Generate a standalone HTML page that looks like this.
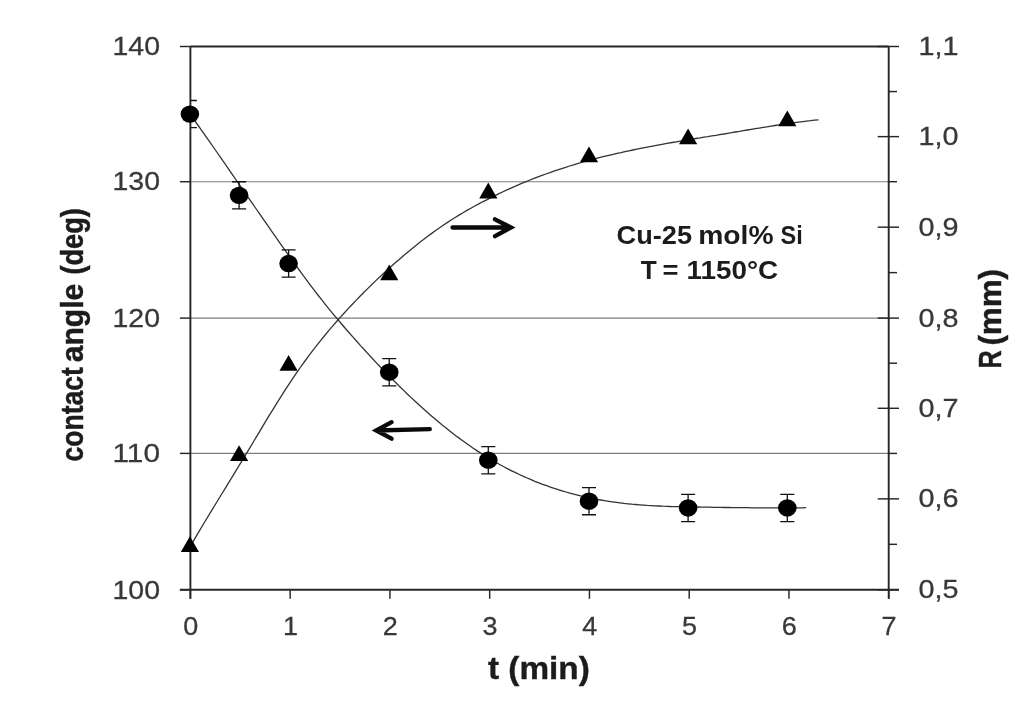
<!DOCTYPE html>
<html lang="en"><head><meta charset="utf-8"><title>Contact angle and R vs t</title>
<style>html,body{margin:0;padding:0;background:#fff;overflow:hidden}svg{display:block}</style></head>
<body>
<svg width="1024" height="709" viewBox="0 0 1024 709">
<rect width="1024" height="709" fill="#fff"/>
<line x1="190.4" y1="453.40" x2="888.70" y2="453.40" stroke="#7d7d7d" stroke-width="1.15"/>
<line x1="190.4" y1="318.10" x2="888.70" y2="318.10" stroke="#7d7d7d" stroke-width="1.15"/>
<line x1="190.4" y1="181.70" x2="888.70" y2="181.70" stroke="#7d7d7d" stroke-width="1.15"/>
<line x1="190.4" y1="46.5" x2="888.70" y2="46.5" stroke="#262626" stroke-width="1.8"/>
<line x1="190.4" y1="45.9" x2="190.4" y2="598.8" stroke="#262626" stroke-width="1.9"/>
<line x1="888.70" y1="45.9" x2="888.70" y2="598.8" stroke="#262626" stroke-width="1.9"/>
<line x1="179.9" y1="589.8" x2="899.00" y2="589.8" stroke="#262626" stroke-width="1.9"/>
<line x1="179.9" y1="589.80" x2="190.4" y2="589.80" stroke="#262626" stroke-width="1.45"/>
<line x1="179.9" y1="453.40" x2="190.4" y2="453.40" stroke="#262626" stroke-width="1.45"/>
<line x1="179.9" y1="318.10" x2="190.4" y2="318.10" stroke="#262626" stroke-width="1.45"/>
<line x1="179.9" y1="181.70" x2="190.4" y2="181.70" stroke="#262626" stroke-width="1.45"/>
<line x1="179.9" y1="46.50" x2="190.4" y2="46.50" stroke="#262626" stroke-width="1.45"/>
<line x1="190.40" y1="589.8" x2="190.40" y2="598.8" stroke="#262626" stroke-width="1.45"/>
<line x1="290.16" y1="589.8" x2="290.16" y2="598.8" stroke="#262626" stroke-width="1.45"/>
<line x1="389.91" y1="589.8" x2="389.91" y2="598.8" stroke="#262626" stroke-width="1.45"/>
<line x1="489.67" y1="589.8" x2="489.67" y2="598.8" stroke="#262626" stroke-width="1.45"/>
<line x1="589.43" y1="589.8" x2="589.43" y2="598.8" stroke="#262626" stroke-width="1.45"/>
<line x1="689.19" y1="589.8" x2="689.19" y2="598.8" stroke="#262626" stroke-width="1.45"/>
<line x1="788.94" y1="589.8" x2="788.94" y2="598.8" stroke="#262626" stroke-width="1.45"/>
<line x1="888.70" y1="589.8" x2="888.70" y2="598.8" stroke="#262626" stroke-width="1.45"/>
<line x1="877.70" y1="589.80" x2="899.00" y2="589.80" stroke="#262626" stroke-width="1.45"/>
<line x1="888.70" y1="544.33" x2="897.00" y2="544.33" stroke="#262626" stroke-width="1.45"/>
<line x1="877.70" y1="498.87" x2="899.00" y2="498.87" stroke="#262626" stroke-width="1.45"/>
<line x1="888.70" y1="453.40" x2="897.00" y2="453.40" stroke="#262626" stroke-width="1.45"/>
<line x1="877.70" y1="408.30" x2="899.00" y2="408.30" stroke="#262626" stroke-width="1.45"/>
<line x1="888.70" y1="363.20" x2="897.00" y2="363.20" stroke="#262626" stroke-width="1.45"/>
<line x1="877.70" y1="318.10" x2="899.00" y2="318.10" stroke="#262626" stroke-width="1.45"/>
<line x1="888.70" y1="272.63" x2="897.00" y2="272.63" stroke="#262626" stroke-width="1.45"/>
<line x1="877.70" y1="227.17" x2="899.00" y2="227.17" stroke="#262626" stroke-width="1.45"/>
<line x1="888.70" y1="181.70" x2="897.00" y2="181.70" stroke="#262626" stroke-width="1.45"/>
<line x1="877.70" y1="136.63" x2="899.00" y2="136.63" stroke="#262626" stroke-width="1.45"/>
<line x1="888.70" y1="91.57" x2="897.00" y2="91.57" stroke="#262626" stroke-width="1.45"/>
<line x1="877.70" y1="46.50" x2="899.00" y2="46.50" stroke="#262626" stroke-width="1.45"/>
<path d="M190.0,114.1 L193.9,119.5 L197.8,125.0 L201.6,130.4 L205.5,135.9 L209.4,141.4 L213.3,147.0 L217.1,152.5 L221.0,158.1 L224.9,163.7 L228.8,169.3 L232.6,174.9 L236.5,180.5 L240.4,186.1 L244.3,191.7 L248.1,197.3 L252.0,202.9 L255.9,208.5 L259.8,214.1 L263.6,219.7 L267.5,225.2 L271.4,230.8 L275.3,236.3 L279.1,241.8 L283.0,247.3 L286.9,252.8 L290.8,258.2 L294.6,263.6 L298.5,269.0 L302.4,274.3 L306.3,279.6 L310.1,284.8 L314.0,289.9 L317.9,295.0 L321.8,299.9 L325.7,304.8 L329.5,309.6 L333.4,314.3 L337.3,318.9 L341.2,323.5 L345.0,328.0 L348.9,332.5 L352.8,336.9 L356.7,341.3 L360.5,345.6 L364.4,349.8 L368.3,354.1 L372.2,358.3 L376.0,362.4 L379.9,366.5 L383.8,370.5 L387.7,374.5 L391.5,378.4 L395.4,382.3 L399.3,386.2 L403.2,389.9 L407.0,393.7 L410.9,397.4 L414.8,401.0 L418.7,404.5 L422.5,408.0 L426.4,411.5 L430.3,414.9 L434.2,418.2 L438.1,421.5 L441.9,424.7 L445.8,427.8 L449.7,430.9 L453.6,433.9 L457.4,436.9 L461.3,439.7 L465.2,442.5 L469.1,445.3 L472.9,448.0 L476.8,450.6 L480.7,453.1 L484.6,455.5 L488.4,457.9 L492.3,460.2 L496.2,462.5 L500.1,464.7 L503.9,466.8 L507.8,468.8 L511.7,470.8 L515.6,472.7 L519.4,474.5 L523.3,476.3 L527.2,478.0 L531.1,479.7 L534.9,481.3 L538.8,482.8 L542.7,484.3 L546.6,485.7 L550.4,487.1 L554.3,488.4 L558.2,489.6 L562.1,490.8 L566.0,492.0 L569.8,493.1 L573.7,494.1 L577.6,495.1 L581.5,496.1 L585.3,496.9 L589.2,497.8 L593.1,498.6 L597.0,499.3 L600.8,500.0 L604.7,500.7 L608.6,501.3 L612.5,501.9 L616.3,502.4 L620.2,502.9 L624.1,503.4 L628.0,503.8 L631.8,504.2 L635.7,504.5 L639.6,504.8 L643.5,505.1 L647.3,505.4 L651.2,505.6 L655.1,505.8 L659.0,506.0 L662.8,506.2 L666.7,506.3 L670.6,506.5 L674.5,506.6 L678.3,506.7 L682.2,506.8 L686.1,506.8 L690.0,506.9 L693.9,507.0 L697.7,507.0 L701.6,507.1 L705.5,507.2 L709.4,507.2 L713.2,507.3 L717.1,507.3 L721.0,507.4 L724.9,507.5 L728.7,507.5 L732.6,507.6 L736.5,507.6 L740.4,507.6 L744.2,507.7 L748.1,507.7 L752.0,507.8 L755.9,507.8 L759.7,507.8 L763.6,507.8 L767.5,507.9 L771.4,507.9 L775.2,507.9 L779.1,507.9 L783.0,507.9 L786.9,507.9 L790.7,507.8 L794.6,507.8 L798.5,507.8 L802.4,507.8 L806.2,507.7" fill="none" stroke="#333333" stroke-width="1.3"/>
<path d="M190.4,546.1 L194.4,539.3 L198.3,532.7 L202.3,526.0 L206.2,519.5 L210.2,512.9 L214.1,506.5 L218.1,500.0 L222.0,493.5 L226.0,487.1 L229.9,480.7 L233.9,474.2 L237.8,467.7 L241.8,461.2 L245.7,454.7 L249.7,448.1 L253.6,441.5 L257.6,434.9 L261.5,428.3 L265.5,421.7 L269.4,415.2 L273.4,408.8 L277.3,402.4 L281.3,396.1 L285.2,389.9 L289.2,383.9 L293.1,377.9 L297.1,372.1 L301.0,366.5 L305.0,361.0 L308.9,355.6 L312.9,350.4 L316.8,345.3 L320.8,340.3 L324.7,335.5 L328.7,330.7 L332.6,326.1 L336.6,321.5 L340.5,317.1 L344.5,312.7 L348.4,308.4 L352.4,304.2 L356.3,300.1 L360.3,296.0 L364.2,292.0 L368.2,288.1 L372.1,284.2 L376.1,280.4 L380.0,276.7 L384.0,273.0 L387.9,269.4 L391.9,265.8 L395.8,262.3 L399.8,258.9 L403.7,255.5 L407.7,252.2 L411.6,248.9 L415.6,245.7 L419.5,242.6 L423.5,239.5 L427.4,236.5 L431.4,233.6 L435.3,230.7 L439.3,228.0 L443.2,225.2 L447.2,222.6 L451.1,220.0 L455.1,217.5 L459.0,215.1 L463.0,212.7 L466.9,210.4 L470.9,208.2 L474.8,206.0 L478.8,203.9 L482.7,201.8 L486.7,199.8 L490.6,197.8 L494.6,195.8 L498.5,193.9 L502.5,192.0 L506.4,190.2 L510.4,188.4 L514.3,186.6 L518.3,184.9 L522.2,183.2 L526.2,181.6 L530.1,180.0 L534.1,178.4 L538.0,176.9 L542.0,175.4 L545.9,174.0 L549.9,172.6 L553.8,171.2 L557.8,169.9 L561.7,168.6 L565.7,167.3 L569.6,166.0 L573.6,164.8 L577.5,163.7 L581.5,162.5 L585.4,161.4 L589.4,160.3 L593.3,159.3 L597.3,158.2 L601.2,157.2 L605.2,156.2 L609.1,155.3 L613.1,154.4 L617.0,153.4 L621.0,152.6 L624.9,151.7 L628.9,150.8 L632.8,150.0 L636.8,149.2 L640.7,148.4 L644.7,147.6 L648.6,146.8 L652.6,146.1 L656.5,145.4 L660.5,144.6 L664.4,143.9 L668.4,143.2 L672.3,142.5 L676.3,141.8 L680.2,141.2 L684.2,140.5 L688.1,139.8 L692.1,139.2 L696.0,138.5 L700.0,137.9 L703.9,137.2 L707.9,136.6 L711.8,135.9 L715.8,135.3 L719.7,134.6 L723.7,134.0 L727.6,133.3 L731.6,132.7 L735.5,132.0 L739.5,131.4 L743.4,130.7 L747.4,130.0 L751.3,129.4 L755.3,128.7 L759.2,128.1 L763.2,127.4 L767.1,126.8 L771.1,126.1 L775.0,125.5 L779.0,124.9 L782.9,124.3 L786.9,123.7 L790.8,123.2 L794.8,122.6 L798.7,122.1 L802.7,121.6 L806.6,121.1 L810.6,120.7 L814.5,120.2 L818.5,119.8" fill="none" stroke="#333333" stroke-width="1.3"/>
<clipPath id="pc"><rect x="190.4" y="46.5" width="698.30" height="543.30"/></clipPath>
<path d="M189.90,100.50V127.70M182.90,100.50H196.90M182.90,127.70H196.90" stroke="#111" stroke-width="1.3" fill="none" clip-path="url(#pc)"/>
<ellipse cx="189.90" cy="114.10" rx="9.3" ry="8.7" fill="#000"/>
<path d="M239.10,181.74V208.94M232.10,181.74H246.10M232.10,208.94H246.10" stroke="#111" stroke-width="1.3" fill="none" clip-path="url(#pc)"/>
<ellipse cx="239.10" cy="195.34" rx="9.3" ry="8.7" fill="#000"/>
<path d="M288.60,249.94V277.14M281.60,249.94H295.60M281.60,277.14H295.60" stroke="#111" stroke-width="1.3" fill="none" clip-path="url(#pc)"/>
<ellipse cx="288.60" cy="263.54" rx="9.3" ry="8.7" fill="#000"/>
<path d="M389.25,358.62V385.82M382.25,358.62H396.25M382.25,385.82H396.25" stroke="#111" stroke-width="1.3" fill="none" clip-path="url(#pc)"/>
<ellipse cx="389.25" cy="372.22" rx="9.3" ry="8.7" fill="#000"/>
<path d="M488.30,446.62V473.82M481.30,446.62H495.30M481.30,473.82H495.30" stroke="#111" stroke-width="1.3" fill="none" clip-path="url(#pc)"/>
<ellipse cx="488.30" cy="460.22" rx="9.3" ry="8.7" fill="#000"/>
<path d="M589.00,487.54V514.74M582.00,487.54H596.00M582.00,514.74H596.00" stroke="#111" stroke-width="1.3" fill="none" clip-path="url(#pc)"/>
<ellipse cx="589.00" cy="501.14" rx="9.3" ry="8.7" fill="#000"/>
<path d="M688.10,494.36V521.56M681.10,494.36H695.10M681.10,521.56H695.10" stroke="#111" stroke-width="1.3" fill="none" clip-path="url(#pc)"/>
<ellipse cx="688.10" cy="507.96" rx="9.3" ry="8.7" fill="#000"/>
<path d="M787.30,494.36V521.56M780.30,494.36H794.30M780.30,521.56H794.30" stroke="#111" stroke-width="1.3" fill="none" clip-path="url(#pc)"/>
<ellipse cx="787.30" cy="507.96" rx="9.3" ry="8.7" fill="#000"/>
<path d="M189.90,536.13L199.00,551.93H180.80Z" fill="#000"/>
<path d="M239.10,445.20L248.20,461.00H230.00Z" fill="#000"/>
<path d="M288.60,355.00L297.70,370.80H279.50Z" fill="#000"/>
<path d="M389.25,264.43L398.35,280.23H380.15Z" fill="#000"/>
<path d="M488.30,182.59L497.40,198.39H479.20Z" fill="#000"/>
<path d="M589.00,146.46L598.10,162.26H579.90Z" fill="#000"/>
<path d="M688.10,128.43L697.20,144.23H679.00Z" fill="#000"/>
<path d="M787.30,110.41L796.40,126.21H778.20Z" fill="#000"/>
<path d="M452.5,227.5H510.5M495,219.3L511,227.5L495,236.2" fill="none" stroke="#0a0a0a" stroke-width="4.3" stroke-linecap="round" stroke-linejoin="miter"/>
<path d="M429.8,429.1L376,430.5M391.6,422.2L376.2,430.5L391.6,438.7" fill="none" stroke="#0a0a0a" stroke-width="4.3" stroke-linecap="round" stroke-linejoin="miter"/>
<text x="160.00" y="598.50" font-family="'Liberation Sans', Arial, sans-serif" font-size="26" fill="#383838" stroke="#383838" stroke-width="0.3" text-anchor="end" textLength="47.5" lengthAdjust="spacingAndGlyphs">100</text>
<text x="160.00" y="462.10" font-family="'Liberation Sans', Arial, sans-serif" font-size="26" fill="#383838" stroke="#383838" stroke-width="0.3" text-anchor="end" textLength="47.5" lengthAdjust="spacingAndGlyphs">110</text>
<text x="160.00" y="326.80" font-family="'Liberation Sans', Arial, sans-serif" font-size="26" fill="#383838" stroke="#383838" stroke-width="0.3" text-anchor="end" textLength="47.5" lengthAdjust="spacingAndGlyphs">120</text>
<text x="160.00" y="190.40" font-family="'Liberation Sans', Arial, sans-serif" font-size="26" fill="#383838" stroke="#383838" stroke-width="0.3" text-anchor="end" textLength="47.5" lengthAdjust="spacingAndGlyphs">130</text>
<text x="160.00" y="55.20" font-family="'Liberation Sans', Arial, sans-serif" font-size="26" fill="#383838" stroke="#383838" stroke-width="0.3" text-anchor="end" textLength="47.5" lengthAdjust="spacingAndGlyphs">140</text>
<text x="190.70" y="635.20" font-family="'Liberation Sans', Arial, sans-serif" font-size="26" fill="#383838" stroke="#383838" stroke-width="0.3" text-anchor="middle" textLength="15" lengthAdjust="spacingAndGlyphs">0</text>
<text x="290.46" y="635.20" font-family="'Liberation Sans', Arial, sans-serif" font-size="26" fill="#383838" stroke="#383838" stroke-width="0.3" text-anchor="middle" textLength="15" lengthAdjust="spacingAndGlyphs">1</text>
<text x="390.21" y="635.20" font-family="'Liberation Sans', Arial, sans-serif" font-size="26" fill="#383838" stroke="#383838" stroke-width="0.3" text-anchor="middle" textLength="15" lengthAdjust="spacingAndGlyphs">2</text>
<text x="489.97" y="635.20" font-family="'Liberation Sans', Arial, sans-serif" font-size="26" fill="#383838" stroke="#383838" stroke-width="0.3" text-anchor="middle" textLength="15" lengthAdjust="spacingAndGlyphs">3</text>
<text x="589.73" y="635.20" font-family="'Liberation Sans', Arial, sans-serif" font-size="26" fill="#383838" stroke="#383838" stroke-width="0.3" text-anchor="middle" textLength="15" lengthAdjust="spacingAndGlyphs">4</text>
<text x="689.49" y="635.20" font-family="'Liberation Sans', Arial, sans-serif" font-size="26" fill="#383838" stroke="#383838" stroke-width="0.3" text-anchor="middle" textLength="15" lengthAdjust="spacingAndGlyphs">5</text>
<text x="789.24" y="635.20" font-family="'Liberation Sans', Arial, sans-serif" font-size="26" fill="#383838" stroke="#383838" stroke-width="0.3" text-anchor="middle" textLength="15" lengthAdjust="spacingAndGlyphs">6</text>
<text x="889.00" y="635.20" font-family="'Liberation Sans', Arial, sans-serif" font-size="26" fill="#383838" stroke="#383838" stroke-width="0.3" text-anchor="middle" textLength="15" lengthAdjust="spacingAndGlyphs">7</text>
<text x="918.50" y="598.40" font-family="'Liberation Sans', Arial, sans-serif" font-size="26" fill="#383838" stroke="#383838" stroke-width="0.3" text-anchor="start" textLength="40" lengthAdjust="spacingAndGlyphs">0,5</text>
<text x="918.50" y="507.47" font-family="'Liberation Sans', Arial, sans-serif" font-size="26" fill="#383838" stroke="#383838" stroke-width="0.3" text-anchor="start" textLength="40" lengthAdjust="spacingAndGlyphs">0,6</text>
<text x="918.50" y="416.90" font-family="'Liberation Sans', Arial, sans-serif" font-size="26" fill="#383838" stroke="#383838" stroke-width="0.3" text-anchor="start" textLength="40" lengthAdjust="spacingAndGlyphs">0,7</text>
<text x="918.50" y="326.70" font-family="'Liberation Sans', Arial, sans-serif" font-size="26" fill="#383838" stroke="#383838" stroke-width="0.3" text-anchor="start" textLength="40" lengthAdjust="spacingAndGlyphs">0,8</text>
<text x="918.50" y="235.77" font-family="'Liberation Sans', Arial, sans-serif" font-size="26" fill="#383838" stroke="#383838" stroke-width="0.3" text-anchor="start" textLength="40" lengthAdjust="spacingAndGlyphs">0,9</text>
<text x="918.50" y="145.23" font-family="'Liberation Sans', Arial, sans-serif" font-size="26" fill="#383838" stroke="#383838" stroke-width="0.3" text-anchor="start" textLength="40" lengthAdjust="spacingAndGlyphs">1,0</text>
<text x="918.50" y="55.10" font-family="'Liberation Sans', Arial, sans-serif" font-size="26" fill="#383838" stroke="#383838" stroke-width="0.3" text-anchor="start" textLength="40" lengthAdjust="spacingAndGlyphs">1,1</text>
<text x="616.6" y="243.8" font-family="'Liberation Sans', Arial, sans-serif" font-size="25.5" font-weight="bold" fill="#1c1c1c" textLength="75.4" lengthAdjust="spacingAndGlyphs">Cu-25</text>
<text x="698.2" y="243.8" font-family="'Liberation Sans', Arial, sans-serif" font-size="25.5" font-weight="bold" fill="#1c1c1c" textLength="75.4" lengthAdjust="spacingAndGlyphs">mol%</text>
<text x="780.6" y="243.8" font-family="'Liberation Sans', Arial, sans-serif" font-size="25.5" font-weight="bold" fill="#1c1c1c" textLength="22.2" lengthAdjust="spacingAndGlyphs">Si</text>
<text x="640.8" y="278.6" font-family="'Liberation Sans', Arial, sans-serif" font-size="25.5" font-weight="bold" fill="#1c1c1c" textLength="16" lengthAdjust="spacingAndGlyphs">T</text>
<text x="662.6" y="278.6" font-family="'Liberation Sans', Arial, sans-serif" font-size="25.5" font-weight="bold" fill="#1c1c1c" textLength="16" lengthAdjust="spacingAndGlyphs">=</text>
<text x="686.6" y="278.6" font-family="'Liberation Sans', Arial, sans-serif" font-size="25.5" font-weight="bold" fill="#1c1c1c" textLength="91.6" lengthAdjust="spacingAndGlyphs">1150°C</text>
<text x="488" y="679.2" font-family="'Liberation Sans', Arial, sans-serif" font-size="30.5" font-weight="bold" fill="#1c1c1c" stroke="#1c1c1c" stroke-width="0.35" textLength="101.8" lengthAdjust="spacingAndGlyphs">t (min)</text>
<text transform="translate(82.8,461.4) rotate(-90)" font-family="'Liberation Sans', Arial, sans-serif" font-size="31" font-weight="bold" fill="#1c1c1c" stroke="#1c1c1c" stroke-width="0.45" textLength="94.2" lengthAdjust="spacingAndGlyphs">contact</text>
<text transform="translate(82.8,362.2) rotate(-90)" font-family="'Liberation Sans', Arial, sans-serif" font-size="31" font-weight="bold" fill="#1c1c1c" stroke="#1c1c1c" stroke-width="0.45" textLength="78.4" lengthAdjust="spacingAndGlyphs">angle</text>
<text transform="translate(82.8,274.6) rotate(-90)" font-family="'Liberation Sans', Arial, sans-serif" font-size="31" font-weight="bold" fill="#1c1c1c" stroke="#1c1c1c" stroke-width="0.45" textLength="66.4" lengthAdjust="spacingAndGlyphs">(deg)</text>
<text transform="translate(1001,368.4) rotate(-90)" font-family="'Liberation Sans', Arial, sans-serif" font-size="31.5" font-weight="bold" fill="#1c1c1c" stroke="#1c1c1c" stroke-width="0.45" textLength="18.2" lengthAdjust="spacingAndGlyphs">R</text>
<text transform="translate(1001,345.6) rotate(-90)" font-family="'Liberation Sans', Arial, sans-serif" font-size="31.5" font-weight="bold" fill="#1c1c1c" stroke="#1c1c1c" stroke-width="0.45" textLength="76.6" lengthAdjust="spacingAndGlyphs">(mm)</text>
</svg>
</body></html>
